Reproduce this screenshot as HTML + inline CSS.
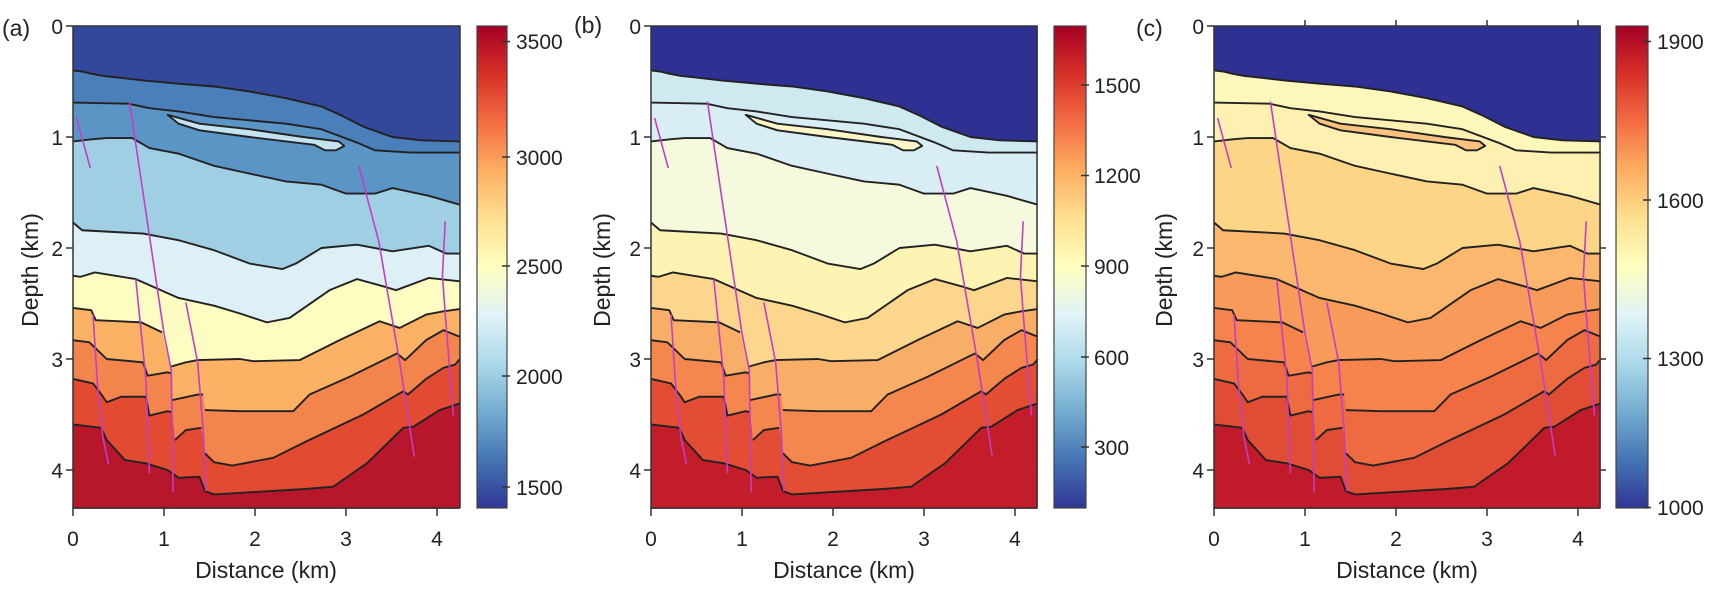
<!DOCTYPE html>
<html><head><meta charset="utf-8"><style>
html,body{margin:0;padding:0;background:#fff;}
svg{display:block;}
text{font-family:"Liberation Sans",Arial,sans-serif;fill:#222;}
.ln{fill:none;stroke:#222;stroke-width:1.9;vector-effect:non-scaling-stroke;stroke-linejoin:round;}
.ft{fill:none;stroke:#c23fc4;stroke-width:1.6;vector-effect:non-scaling-stroke;}
.ax{stroke:#333;stroke-width:1.5;fill:none;}
</style></head><body>
<svg width="1714" height="590" viewBox="0 0 1714 590" xmlns="http://www.w3.org/2000/svg">
<defs>
<linearGradient id="cb" x1="0" y1="1" x2="0" y2="0">
<stop offset="0" stop-color="#313695"/><stop offset="0.1" stop-color="#4575b4"/><stop offset="0.2" stop-color="#74add1"/><stop offset="0.3" stop-color="#abd9e9"/><stop offset="0.4" stop-color="#e0f3f8"/><stop offset="0.5" stop-color="#ffffbf"/><stop offset="0.6" stop-color="#fee090"/><stop offset="0.7" stop-color="#fdae61"/><stop offset="0.8" stop-color="#f46d43"/><stop offset="0.9" stop-color="#d73027"/><stop offset="1" stop-color="#a50026"/>
</linearGradient>
<polygon id="A9" points="0,3.59 0.31,3.62 0.37,3.73 0.57,3.91 0.8,3.94 1.04,4.0 1.16,4.07 1.39,4.06 1.45,4.19 1.55,4.22 2.57,4.17 2.86,4.15 3.23,3.94 3.63,3.62 3.74,3.61 4.03,3.46 4.25,3.40 4.25,0 0,0"/>
<polygon id="A8" points="0,3.18 0.22,3.22 0.33,3.34 0.37,3.39 0.53,3.34 0.8,3.34 0.84,3.51 1.04,3.47 1.09,3.48 1.12,3.73 1.24,3.64 1.41,3.62 1.45,3.85 1.55,3.93 1.75,3.96 2.20,3.89 2.57,3.74 3.19,3.50 3.63,3.29 3.68,3.32 3.88,3.18 4.07,3.08 4.2,3.05 4.25,3.0 4.25,0 0,0"/>
<polygon id="A7" points="0,2.83 0.18,2.85 0.37,3.0 0.77,3.03 0.82,3.15 1.04,3.12 1.08,3.13 1.09,3.37 1.37,3.32 1.43,3.32 1.45,3.46 1.835,3.47 2.42,3.47 2.60,3.32 3.04,3.16 3.56,2.95 3.65,3.01 3.88,2.83 4.07,2.74 4.25,2.80 4.25,0 0,0"/>
<polygon id="A6" points="0,2.54 0.2,2.56 0.25,2.65 0.75,2.67 0.98,2.76 1.07,3.07 1.24,3.03 1.37,3.01 1.835,3.00 1.98,3.02 2.49,3.01 2.93,2.83 3.37,2.66 3.59,2.72 3.88,2.60 4.07,2.57 4.25,2.55 4.25,0 0,0"/>
<polygon id="A5" points="0,2.25 0.08,2.26 0.24,2.22 0.69,2.28 1.16,2.45 1.55,2.52 1.835,2.59 2.13,2.67 2.38,2.63 2.82,2.38 3.12,2.28 3.43,2.35 3.55,2.38 3.91,2.27 4.25,2.30 4.25,0 0,0"/>
<polygon id="A4" points="0,1.77 0.1,1.84 0.77,1.87 1.16,1.93 1.55,2.02 1.94,2.14 2.3,2.19 2.45,2.14 2.73,2.0 3.12,1.97 3.51,2.03 3.91,1.98 4.1,2.05 4.25,2.05 4.25,0 0,0"/>
<polygon id="A3" points="0,1.04 0.22,1.02 0.37,1.01 0.65,1.01 0.84,1.10 1.16,1.15 1.55,1.26 1.94,1.33 2.34,1.40 2.73,1.43 3.0,1.51 3.32,1.51 3.51,1.46 3.91,1.53 4.25,1.61 4.25,0 0,0"/>
<polygon id="A2" points="0,0.69 0.61,0.70 0.84,0.74 1.16,0.77 1.55,0.82 1.94,0.85 2.34,0.88 2.73,0.93 3.12,1.05 3.32,1.12 3.71,1.14 4.25,1.14 4.25,0 0,0"/>
<polygon id="A1" points="0,0.40 0.1,0.41 0.2,0.43 0.33,0.45 0.5,0.465 0.77,0.49 1.16,0.52 1.55,0.545 1.94,0.59 2.34,0.65 2.73,0.725 2.96,0.81 3.2,0.91 3.51,1.0 3.83,1.03 4.25,1.04 4.25,0 0,0"/>
<polygon id="LENS" points="1.04,0.80 1.39,0.88 1.94,0.93 2.53,1.0 2.92,1.04 2.98,1.08 2.89,1.12 2.77,1.12 2.65,1.07 1.94,1.0 1.39,0.94 1.16,0.88"/>
<g id="LINES">
<polyline class="ln" points="0,3.59 0.31,3.62 0.37,3.73 0.57,3.91 0.8,3.94 1.04,4.0 1.16,4.07 1.39,4.06 1.45,4.19 1.55,4.22 2.57,4.17 2.86,4.15 3.23,3.94 3.63,3.62 3.74,3.61 4.03,3.46 4.25,3.40"/>
<polyline class="ln" points="0,3.18 0.22,3.22 0.33,3.34 0.37,3.39 0.53,3.34 0.8,3.34 0.84,3.51 1.04,3.47 1.09,3.48"/>
<polyline class="ln" points="1.12,3.73 1.24,3.64 1.41,3.62"/>
<polyline class="ln" points="1.45,3.85 1.55,3.93 1.75,3.96 2.20,3.89 2.57,3.74 3.19,3.50 3.63,3.29 3.68,3.32 3.88,3.18 4.07,3.08 4.2,3.05 4.25,3.0"/>
<polyline class="ln" points="0,2.83 0.18,2.85 0.37,3.0 0.77,3.03 0.82,3.15 1.04,3.12 1.08,3.13"/>
<polyline class="ln" points="1.09,3.37 1.37,3.32 1.43,3.32"/>
<polyline class="ln" points="1.45,3.46 1.835,3.47 2.42,3.47 2.60,3.32 3.04,3.16 3.56,2.95 3.65,3.01 3.88,2.83 4.07,2.74 4.25,2.80"/>
<polyline class="ln" points="0,2.54 0.2,2.56 0.25,2.65 0.75,2.67 0.98,2.76"/>
<polyline class="ln" points="1.07,3.07 1.24,3.03 1.37,3.01 1.835,3.00 1.98,3.02 2.49,3.01 2.93,2.83 3.37,2.66 3.59,2.72 3.88,2.60 4.07,2.57 4.25,2.55"/>
<polyline class="ln" points="0,2.25 0.08,2.26 0.24,2.22 0.69,2.28 1.16,2.45 1.55,2.52 1.835,2.59 2.13,2.67 2.38,2.63 2.82,2.38 3.12,2.28 3.43,2.35 3.55,2.38 3.91,2.27 4.25,2.30"/>
<polyline class="ln" points="0,1.77 0.1,1.84 0.77,1.87 1.16,1.93 1.55,2.02 1.94,2.14 2.3,2.19 2.45,2.14 2.73,2.0 3.12,1.97 3.51,2.03 3.91,1.98 4.1,2.05 4.25,2.05"/>
<polyline class="ln" points="0,1.04 0.22,1.02 0.37,1.01 0.65,1.01 0.84,1.10 1.16,1.15 1.55,1.26 1.94,1.33 2.34,1.40 2.73,1.43 3.0,1.51 3.32,1.51 3.51,1.46 3.91,1.53 4.25,1.61"/>
<polyline class="ln" points="0,0.69 0.61,0.70 0.84,0.74 1.16,0.77 1.55,0.82 1.94,0.85 2.34,0.88 2.73,0.93 3.12,1.05 3.32,1.12 3.71,1.14 4.25,1.14"/>
<polyline class="ln" points="0,0.40 0.1,0.41 0.2,0.43 0.33,0.45 0.5,0.465 0.77,0.49 1.16,0.52 1.55,0.545 1.94,0.59 2.34,0.65 2.73,0.725 2.96,0.81 3.2,0.91 3.51,1.0 3.83,1.03 4.25,1.04"/>
<polygon class="ln" points="1.04,0.80 1.39,0.88 1.94,0.93 2.53,1.0 2.92,1.04 2.98,1.08 2.89,1.12 2.77,1.12 2.65,1.07 1.94,1.0 1.39,0.94 1.16,0.88"/>
<polyline class="ft" points="0.04,0.83 0.19,1.28"/>
<polyline class="ft" points="0.62,0.68 1.0,2.77 1.08,3.1 1.1,4.2"/>
<polyline class="ft" points="0.69,2.28 0.80,3.17 0.84,4.03"/>
<polyline class="ft" points="0.22,2.6 0.27,3.24 0.33,3.71 0.39,3.95"/>
<polyline class="ft" points="1.24,2.49 1.37,3.03 1.43,3.64 1.46,4.19"/>
<polyline class="ft" points="3.14,1.26 3.36,1.94 3.59,3.03 3.75,3.88"/>
<polyline class="ft" points="4.09,1.76 4.06,2.25 4.09,2.59 4.18,3.51"/>
</g>
</defs>

<!-- Panel a -->
<g transform="translate(73,26) scale(91,111)">
<rect x="0" y="0" width="4.25" height="4.35" fill="#b8162a"/>
<use href="#A9" fill="#e24b31"/><use href="#A8" fill="#f3844c"/><use href="#A7" fill="#fbb265"/><use href="#A6" fill="#fefdc1"/><use href="#A5" fill="#dcf0f5"/><use href="#A4" fill="#a0cee3"/><use href="#A3" fill="#5a95c6"/><use href="#A2" fill="#4a7fb9"/><use href="#A1" fill="#34489b"/><use href="#LENS" fill="#c2e3ef"/>
<use href="#LINES"/>
</g>
<!-- Panel b -->
<g transform="translate(651,26) scale(91,111)">
<rect x="0" y="0" width="4.25" height="4.35" fill="#c31d2a"/>
<use href="#A9" fill="#e34d33"/><use href="#A8" fill="#f4864e"/><use href="#A7" fill="#f9ae67"/><use href="#A6" fill="#fcd68c"/><use href="#A5" fill="#fdf4b3"/><use href="#A4" fill="#f6fadc"/><use href="#A3" fill="#d9eef4"/><use href="#A2" fill="#cfe9f1"/><use href="#A1" fill="#2e3192"/><use href="#LENS" fill="#fcf6c6"/>
<use href="#LINES"/>
</g>
<!-- Panel c -->
<g transform="translate(1214,26) scale(91,111)">
<rect x="0" y="0" width="4.25" height="4.35" fill="#c01a2b"/>
<use href="#A9" fill="#e04c34"/><use href="#A8" fill="#ee6a41"/><use href="#A7" fill="#f5834b"/><use href="#A6" fill="#f89a5a"/><use href="#A5" fill="#fbb76e"/><use href="#A4" fill="#fcd587"/><use href="#A3" fill="#fdf0b0"/><use href="#A2" fill="#fef7bb"/><use href="#A1" fill="#2e3192"/><use href="#LENS" fill="#f9c37e"/>
<use href="#LINES"/>
</g>

<!-- Axes a -->
<g>
<path class="ax" d="M73,26 V508 H460 M73,26 H460 V508"/>
<path class="ax" d="M66,26H73 M66,137H73 M66,248H73 M66,359H73 M66,470H73 M73,508v8 M164,508v8 M255,508v8 M346,508v8 M437,508v8"/>
<g font-size="21" text-anchor="end"><text x="63" y="34">0</text><text x="63" y="145">1</text><text x="63" y="256">2</text><text x="63" y="367">3</text><text x="63" y="478">4</text></g>
<g font-size="21" text-anchor="middle"><text x="73" y="546">0</text><text x="164" y="546">1</text><text x="255" y="546">2</text><text x="346" y="546">3</text><text x="437" y="546">4</text></g>
<text x="266" y="578" font-size="23" text-anchor="middle">Distance (km)</text>
<text transform="translate(38,270) rotate(-90)" font-size="23" text-anchor="middle">Depth (km)</text>
<text x="2" y="36" font-size="23">(a)</text>
<rect x="477" y="26" width="30" height="482" fill="url(#cb)" stroke="#444" stroke-width="1.2"/>
<path class="ax" d="M502,41.5h8 M502,157h8 M502,266h8 M502,376h8 M502,487h8"/>
<g font-size="21"><text x="516" y="49">3500</text><text x="516" y="165">3000</text><text x="516" y="274">2500</text><text x="516" y="384">2000</text><text x="516" y="495">1500</text></g>
</g>

<!-- Axes b -->
<g>
<path class="ax" d="M651,26 V508 H1037 M651,26 H1037 V508"/>
<path class="ax" d="M644,26H651 M644,137H651 M644,248H651 M644,359H651 M644,470H651 M651,508v8 M742,508v8 M833,508v8 M924,508v8 M1015,508v8"/>
<g font-size="21" text-anchor="end"><text x="641" y="34">0</text><text x="641" y="145">1</text><text x="641" y="256">2</text><text x="641" y="367">3</text><text x="641" y="478">4</text></g>
<g font-size="21" text-anchor="middle"><text x="651" y="546">0</text><text x="742" y="546">1</text><text x="833" y="546">2</text><text x="924" y="546">3</text><text x="1015" y="546">4</text></g>
<text x="844" y="578" font-size="23" text-anchor="middle">Distance (km)</text>
<text transform="translate(610,270) rotate(-90)" font-size="23" text-anchor="middle">Depth (km)</text>
<text x="574" y="33" font-size="23">(b)</text>
<rect x="1054" y="26" width="32" height="482" fill="url(#cb)" stroke="#444" stroke-width="1.2"/>
<path class="ax" d="M1081,85h8 M1081,175.5h8 M1081,266h8 M1081,357h8 M1081,447h8"/>
<g font-size="21"><text x="1094" y="93">1500</text><text x="1094" y="183">1200</text><text x="1094" y="274">900</text><text x="1094" y="365">600</text><text x="1094" y="455">300</text></g>
</g>

<!-- Axes c -->
<g>
<path class="ax" d="M1214,26 V508 H1600 M1214,26 H1600 V508"/>
<path class="ax" d="M1207,26H1214 M1207,137H1214 M1207,248H1214 M1207,359H1214 M1207,470H1214 M1214,508v8 M1305,508v8 M1396,508v8 M1487,508v8 M1578,508v8"/>
<path class="ax" d="M1305,26v-6 M1396,26v-6 M1487,26v-6 M1578,26v-6 M1600,137h6 M1600,248h6 M1600,359h6 M1600,470h6" stroke-width="1"/>
<g font-size="21" text-anchor="end"><text x="1204" y="34">0</text><text x="1204" y="145">1</text><text x="1204" y="256">2</text><text x="1204" y="367">3</text><text x="1204" y="478">4</text></g>
<g font-size="21" text-anchor="middle"><text x="1214" y="546">0</text><text x="1305" y="546">1</text><text x="1396" y="546">2</text><text x="1487" y="546">3</text><text x="1578" y="546">4</text></g>
<text x="1407" y="578" font-size="23" text-anchor="middle">Distance (km)</text>
<text transform="translate(1172,270) rotate(-90)" font-size="23" text-anchor="middle">Depth (km)</text>
<text x="1136" y="36" font-size="23">(c)</text>
<rect x="1616" y="26" width="32" height="482" fill="url(#cb)" stroke="#444" stroke-width="1.2"/>
<path class="ax" d="M1643,41.5h8 M1643,200h8 M1643,358.5h8 M1643,507.5h8"/>
<g font-size="21"><text x="1657" y="49">1900</text><text x="1657" y="208">1600</text><text x="1657" y="366">1300</text><text x="1657" y="515">1000</text></g>
</g>
</svg>
</body></html>
